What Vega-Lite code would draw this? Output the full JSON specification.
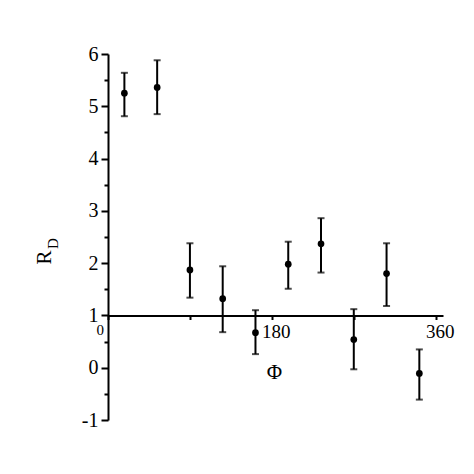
{
  "$schema": "https://vega.github.io/schema/vega-lite/v6.json",
  "autosize": "none",
  "padding": {"left": 108, "top": 54, "right": 31, "bottom": 54},
  "width": 335,
  "height": 366,
  "background": "white",
  "data": {
    "values": [
      {"phi": 18, "rd": 5.25, "lo": 4.81, "hi": 5.64},
      {"phi": 54, "rd": 5.36, "lo": 4.85, "hi": 5.88},
      {"phi": 90, "rd": 1.87, "lo": 1.34, "hi": 2.38},
      {"phi": 126, "rd": 1.32, "lo": 0.68, "hi": 1.94},
      {"phi": 162, "rd": 0.67, "lo": 0.26, "hi": 1.10},
      {"phi": 198, "rd": 1.98, "lo": 1.51, "hi": 2.41},
      {"phi": 234, "rd": 2.37, "lo": 1.82, "hi": 2.86},
      {"phi": 270, "rd": 0.54, "lo": -0.03, "hi": 1.12},
      {"phi": 306, "rd": 1.80, "lo": 1.18, "hi": 2.38},
      {"phi": 342, "rd": -0.11, "lo": -0.61, "hi": 0.35}
    ]
  },
  "encoding": {
    "x": {
      "field": "phi",
      "type": "quantitative",
      "scale": {"domain": [0, 368], "nice": false, "zero": false},
      "axis": {
        "title": "Φ",
        "titleFontSize": 21,
        "titleX": 166,
        "titleY": 57,
        "titleAlign": "center",
        "titleBaseline": "middle",
        "offset": -104.5,
        "values": [0, 90, 180, 270, 360],
        "labelExpr": "datum.value == 90 || datum.value == 270 ? '' : datum.label",
        "tickSize": 4,
        "labelPadding": 3,
        "labelFontSize": {"condition": {"test": "datum.value == 0", "value": 15}, "value": 19},
        "labelOffset": {"condition": {"test": "datum.value == 0", "value": -12}, "value": 4}
      }
    }
  },
  "layer": [
    {
      "mark": {"type": "rule", "strokeWidth": 2, "color": "black"},
      "encoding": {
        "y": {
          "field": "lo",
          "type": "quantitative",
          "scale": {"domain": [-1, 6], "nice": false, "zero": false},
          "axis": {
            "title": "R",
            "titleFontSize": 21,
            "titleAngle": 270,
            "titleX": -64,
            "titleY": 203,
            "titleAlign": "center",
            "titleBaseline": "middle",
            "values": [-1, 0, 1, 2, 3, 4, 5, 6],
            "labelExpr": "replace(datum.label, '\u2212', '-')",
            "tickSize": 7,
            "labelPadding": 3,
            "labelFontSize": 20
          }
        },
        "y2": {"field": "hi"}
      }
    },
    {
      "mark": {"type": "tick", "orient": "horizontal", "size": 7, "thickness": 2, "color": "black"},
      "encoding": {
        "y": {"field": "lo", "type": "quantitative", "axis": null}
      }
    },
    {
      "mark": {"type": "tick", "orient": "horizontal", "size": 7, "thickness": 2, "color": "black"},
      "encoding": {
        "y": {"field": "hi", "type": "quantitative", "axis": null}
      }
    },
    {
      "mark": {"type": "point", "filled": true, "size": 45, "color": "black", "opacity": 1},
      "encoding": {
        "y": {
          "field": "rd",
          "type": "quantitative",
          "axis": {
            "orient": "left",
            "title": "D",
            "titleFontSize": 15,
            "titleAngle": 270,
            "titleX": -56,
            "titleY": 189,
            "titleAlign": "center",
            "titleBaseline": "middle",
            "values": [-0.5, 0.5, 1.5, 2.5, 3.5, 4.5, 5.5],
            "tickSize": 4,
            "labels": false,
            "domain": false
          }
        }
      }
    }
  ],
  "resolve": {"axis": {"y": "independent"}},
  "config": {
    "view": {"stroke": null},
    "axis": {
      "grid": false,
      "domainColor": "black",
      "domainWidth": 2,
      "tickColor": "black",
      "tickWidth": 2,
      "labelColor": "black",
      "labelFont": "Liberation Serif",
      "titleFont": "Liberation Serif",
      "titleFontWeight": "normal",
      "titleColor": "black"
    }
  }
}
